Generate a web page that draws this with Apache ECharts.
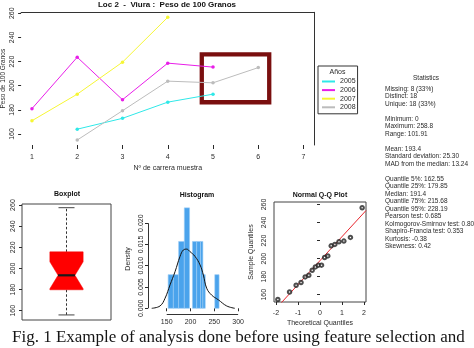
<!DOCTYPE html>
<html><head><meta charset="utf-8">
<script src="https://cdn.jsdelivr.net/npm/echarts@6/dist/echarts.min.js"></script>
<style>html,body{margin:0;padding:0;background:#fff;}#c{width:474px;height:348px;}</style>
</head><body><div id="c"></div>
<script>
// ---------- main line chart ----------
const samples = [1, 2, 3, 4, 5, 6, 7];
const years = ['2005', '2006', '2007', '2008'];
const y2005 = [null, 164, 173, 186.4, 193, null, null];
const y2006 = [181, 223.6, 188.4, 218.7, 215.4, null, null];
const y2007 = [171, 193, 219.5, 256.7, null, null, null];
const y2008 = [null, 155, 179.3, 203.8, 202.4, 215, null];
const mainYTicks = [160, 180, 200, 220, 240, 260];
const highlightX = [4.752, 6.242];
const highlightY = [186.3, 225.9];

// ---------- boxplot ----------
const boxStats = [156, 179.8, 193.5, 215.7, 257.5]; // min, q1, median, q3, max
const boxNotch = [180.8, 206.3];
const boxYTicks = [160, 180, 200, 220, 240, 260];

// ---------- histogram ----------
const histStart = [153, 164, 175, 187, 204, 213, 221, 226, 251];
const histEnd = [164, 175, 187, 198, 213, 221, 226, 231, 260];
const histDensity = [0.0079, 0.0079, 0.0157, 0.0236, 0.0157, 0.0157, 0.0157, 0.0079, 0.0079];
const densityX = [118.5, 136, 146.5, 157, 167.5, 178, 185, 192, 199, 209.4, 220, 227, 234, 244.4, 258.4, 276, 293];
const densityY = [0, 0.00055, 0.00235, 0.0055, 0.0086, 0.0122, 0.0137, 0.0139, 0.0133, 0.0122, 0.0102, 0.0078, 0.0047, 0.0031, 0.002, 0.00055, 0];
const histXTicks = [150, 200, 250, 300];
const histYTicks = [0, 0.005, 0.010, 0.015, 0.020];

// ---------- normal Q-Q ----------
const qqTheoretical = [-1.915, -1.383, -1.085, -0.862, -0.674, -0.508, -0.355, -0.210, -0.070, 0.070, 0.210, 0.355, 0.508, 0.674, 0.862, 1.085, 1.383, 1.915];
const qqSample = [154.6, 163, 170.5, 173.5, 179.7, 181.6, 187.1, 190.8, 192.7, 192.7, 201.2, 203, 214.1, 215.7, 218.6, 219.4, 223.5, 256.4];
const qqLineIntercept = 197.77;
const qqLineSlope = 26.56;
const qqXTicks = [-2, -1, 0, 1, 2];
const qqYTicks = [160, 180, 200, 220, 240, 260];

// ---------- statistics text ----------
const statsLines = [
  'Missing: 8 (33%)', 'Distinct: 18', 'Unique: 18 (33%)', '',
  'Minimum: 0', 'Maximum: 258.8', 'Range: 101.91', '',
  'Mean: 193.4', 'Standard deviation: 25.30', 'MAD from the median: 13.24', '',
  'Quantile 5%: 162.55', 'Quantile 25%: 179.85', 'Median: 191.4', 'Quantile 75%: 215.68',
  'Quantile 95%: 228.19', 'Pearson test: 0.685', 'Kolmogorov-Smirnov test: 0.806',
  'Shapiro-Francia test: 0.353', 'Kurtosis: -0.38', 'Skewness: 0.42'
];
const captionText = 'Fig. 1 Example of analysis done before using feature selection and';

const FONT = 'Liberation Sans';
const INK = '#2a2a2a';
const yearColors = ['#2fe8e8', '#e81ee8', '#f6f634', '#bcbcbc'];
const yearData = [y2005, y2006, y2007, y2008];

const mainX = [0.76, 7.24], mainY = [150.9, 260.8];
const boxY = [151.2, 261];
const histX = [110.7, 305], histY = [-0.00134, 0.0245];
const qqX = [-2.09, 2.09], qqY = [151.9, 262.7];

function tickAxis(extra) {
  return Object.assign({
    type: 'value', splitLine: { show: false },
    axisLine: { show: false }, nameMoveOverlap: false
  }, extra);
}
const tick = (vals, len) => ({ customValues: vals, length: len, lineStyle: { color: INK, width: 1 } });
const lab = (vals, extra) => Object.assign({ customValues: vals, fontSize: 7, color: INK, fontFamily: FONT }, extra);
const nameStyle = { fontSize: 7, color: INK, fontFamily: FONT };

const lineSeries = years.map((yr, k) => ({
  name: yr, type: 'line', xAxisIndex: 0, yAxisIndex: 0,
  data: samples.map((s, i) => [s, yearData[k][i]]).filter(p => p[1] !== null),
  lineStyle: { color: yearColors[k], width: 1 },
  itemStyle: { color: yearColors[k] },
  symbol: 'circle', symbolSize: 3.5, showSymbol: true,
  z: 3
}));
lineSeries[3].markArea = {
  silent: true,
  itemStyle: { color: 'rgba(0,0,0,0)', borderColor: '#7a0f0f', borderWidth: 4.3 },
  data: [[{ coord: [highlightX[0], highlightY[1]] }, { coord: [highlightX[1], highlightY[0]] }]]
};

const gridBase = { outerBoundsMode: 'none', containLabel: false };

const option = {
  animation: false,
  textStyle: { fontFamily: FONT },
  legend: {
    data: years, orient: 'vertical', left: 318, top: 66,
    padding: [12, 2, 3, 4], itemGap: 1.6, itemWidth: 13, itemHeight: 2, icon: 'rect',
    textStyle: { fontSize: 7, color: INK, lineHeight: 6, fontFamily: FONT },
    borderColor: '#333', borderWidth: 1, selectedMode: false
  },
  title: [
    { text: 'Loc 2  -  Viura :  Peso de 100 Granos', left: 167, top: 1, textAlign: 'center', padding: 0,
      textStyle: { fontSize: 8, fontWeight: 'bold', color: '#111', fontFamily: FONT } },
    { text: 'Boxplot', left: 67, top: 191, textAlign: 'center', padding: 0,
      textStyle: { fontSize: 7, fontWeight: 'bold', color: '#111', fontFamily: FONT } },
    { text: 'Histogram', left: 197, top: 192, textAlign: 'center', padding: 0,
      textStyle: { fontSize: 7, fontWeight: 'bold', color: '#111', fontFamily: FONT } },
    { text: 'Normal Q-Q Plot', left: 320, top: 192, textAlign: 'center', padding: 0,
      textStyle: { fontSize: 7, fontWeight: 'bold', color: '#111', fontFamily: FONT } },
    { text: 'Años', left: 337.5, top: 68.5, textAlign: 'center', padding: 0,
      textStyle: { fontSize: 7, fontWeight: 'normal', color: INK, fontFamily: FONT } },
    { text: 'Statistics', left: 426, top: 75, textAlign: 'center', padding: 0,
      textStyle: { fontSize: 6.5, fontWeight: 'normal', color: INK, fontFamily: FONT } }
  ],
  grid: [
    Object.assign({ left: 21.1, top: 12.3, width: 293.3, height: 132.7 }, gridBase),
    Object.assign({ left: 22, top: 204, width: 89, height: 116, show: true, borderColor: '#444', borderWidth: 1, backgroundColor: 'transparent' }, gridBase),
    Object.assign({ left: 148, top: 204, width: 92.5, height: 110 }, gridBase),
    Object.assign({ left: 274, top: 202, width: 92, height: 100, show: true, borderColor: '#444', borderWidth: 1, backgroundColor: 'transparent' }, gridBase)
  ],
  xAxis: [
    tickAxis({ gridIndex: 0, min: mainX[0], max: mainX[1], axisTick: tick(samples, 4),
      axisLabel: lab(samples, { margin: 9 }),
      name: 'Nº de carrera muestra', nameLocation: 'middle', nameGap: 20, nameTextStyle: nameStyle }),
    tickAxis({ gridIndex: 0, position: 'top', min: mainX[0], max: mainX[1],
      axisLine: { show: true, lineStyle: { color: '#333', width: 1 } }, axisTick: { show: false }, axisLabel: { show: false } }),
    tickAxis({ gridIndex: 1, min: 0, max: 1, show: false }),
    tickAxis({ gridIndex: 2, min: histX[0], max: histX[1], axisTick: tick(histXTicks, 3),
      axisLabel: lab(histXTicks, { margin: 5 }) }),
    tickAxis({ gridIndex: 3, min: qqX[0], max: qqX[1], axisTick: tick(qqXTicks, 3),
      axisLabel: lab(qqXTicks, { margin: 8 }),
      name: 'Theoretical Quantiles', nameLocation: 'middle', nameGap: 18, nameTextStyle: nameStyle })
  ],
  yAxis: [
    tickAxis({ gridIndex: 0, min: mainY[0], max: mainY[1], axisTick: tick(mainYTicks, 3),
      axisLabel: lab(mainYTicks, { rotate: 90, margin: 6 }),
      name: 'Peso de 100 Granos', nameLocation: 'middle', nameGap: 14, nameRotate: 90,
      nameTextStyle: { fontSize: 6.5, color: INK, fontFamily: FONT } }),
    tickAxis({ gridIndex: 0, position: 'right', min: mainY[0], max: mainY[1],
      axisLine: { show: true, lineStyle: { color: '#333', width: 1 } }, axisTick: { show: false }, axisLabel: { show: false } }),
    tickAxis({ gridIndex: 1, min: boxY[0], max: boxY[1], axisTick: tick(boxYTicks, 3),
      axisLabel: lab(boxYTicks, { rotate: 90, margin: 5 }) }),
    tickAxis({ gridIndex: 2, min: histY[0], max: histY[1], axisTick: tick(histYTicks, 3),
      axisLabel: lab(histYTicks, { rotate: 90, margin: 3, formatter: v => Number(v).toFixed(3) }),
      name: 'Density', nameLocation: 'middle', nameGap: 16, nameRotate: 90, nameTextStyle: nameStyle }),
    tickAxis({ gridIndex: 3, min: qqY[0], max: qqY[1], axisTick: tick(qqYTicks, 3),
      axisLabel: lab(qqYTicks, { rotate: 90, margin: 6 }),
      name: 'Sample Quantiles', nameLocation: 'middle', nameGap: 19, nameRotate: 90, nameTextStyle: nameStyle })
  ],
  series: lineSeries.concat([
    {
      type: 'custom', xAxisIndex: 2, yAxisIndex: 2, data: [[0.5, boxStats[2]]],
      encode: { x: 0, y: 1 }, silent: true,
      renderItem: function (params, api) {
        const c = (x, v) => api.coord([x, v]);
        const xc = 0.5, hw = 0.187, nw = 0.095, cw = 0.09;
        const mn = boxStats[0], q1 = boxStats[1], md = boxStats[2], q3 = boxStats[3], mx = boxStats[4];
        const pts = [c(xc - hw, q3), c(xc + hw, q3), c(xc + hw, boxNotch[1]), c(xc + nw, md), c(xc + hw, boxNotch[0]),
          c(xc + hw, q1), c(xc - hw, q1), c(xc - hw, boxNotch[0]), c(xc - nw, md), c(xc - hw, boxNotch[1])];
        const seg = (a, b, st) => ({ type: 'line', shape: { x1: a[0], y1: a[1], x2: b[0], y2: b[1] }, style: st });
        const dash = { stroke: '#333', lineWidth: 1, lineDash: [2.5, 2] };
        const solid = { stroke: '#444', lineWidth: 1 };
        return {
          type: 'group', children: [
            seg(c(xc, q3), c(xc, mx), dash),
            seg(c(xc, q1), c(xc, mn), dash),
            seg(c(xc - cw, mx), c(xc + cw, mx), solid),
            seg(c(xc - cw, mn), c(xc + cw, mn), solid),
            { type: 'polygon', shape: { points: pts }, style: { fill: '#ff0000', stroke: '#f00000', lineWidth: 0.5 } },
            seg(c(xc - nw, md), c(xc + nw, md), { stroke: '#1a1a1a', lineWidth: 2.2 })
          ]
        };
      }
    },
    {
      type: 'custom', xAxisIndex: 3, yAxisIndex: 3, silent: true,
      data: histStart.map((s, i) => [s, histEnd[i], histDensity[i]]),
      encode: { x: [0, 1], y: 2 },
      renderItem: function (params, api) {
        const p0 = api.coord([api.value(0), api.value(2)]);
        const p1 = api.coord([api.value(1), 0]);
        return { type: 'rect', shape: { x: p0[0], y: p0[1], width: p1[0] - p0[0], height: p1[1] - p0[1] },
          style: { fill: '#4aa3ec', stroke: '#9ccdf5', lineWidth: 0.6 } };
      }
    },
    {
      type: 'line', xAxisIndex: 3, yAxisIndex: 3, silent: true,
      data: densityX.map((x, i) => [x, densityY[i]]),
      smooth: 0.4, showSymbol: false, symbol: 'none',
      lineStyle: { color: '#111', width: 1 }, z: 4,
      markLine: {
        silent: true, symbol: ['none', 'none'], label: { show: false }, animation: false,
        lineStyle: { color: '#333', width: 1, type: 'solid' },
        emphasis: { disabled: true },
        data: [
          [{ coord: [histX[0], histYTicks[0]] }, { coord: [histX[0], histYTicks[histYTicks.length - 1]] }],
          [{ coord: [histXTicks[0], histY[0]] }, { coord: [histXTicks[histXTicks.length - 1], histY[0]] }]
        ]
      }
    },
    {
      type: 'line', xAxisIndex: 4, yAxisIndex: 4, silent: true, clip: true,
      data: qqX.map(x => [x, qqLineIntercept + qqLineSlope * x]),
      showSymbol: false, symbol: 'none', lineStyle: { color: '#e8262e', width: 1 }, z: 2
    },
    {
      type: 'scatter', xAxisIndex: 4, yAxisIndex: 4, silent: true,
      data: qqTheoretical.map((t, i) => [t, qqSample[i]]),
      symbol: 'emptyCircle', symbolSize: 3.5,
      itemStyle: { color: '#222', borderColor: '#222', borderWidth: 0.7 }, z: 3
    }
  ]),
  graphic: [
    { type: 'text', left: 385, top: 85, silent: true,
      style: { text: statsLines.join('\n'), font: '6.5px "Liberation Sans"', lineHeight: 7.5, fill: INK } },
    { type: 'text', left: 12, top: 329, silent: true,
      style: { text: captionText, font: '17px "Liberation Serif"', fill: '#151515' } }
  ]
};

const chart = echarts.init(document.getElementById('c'), null, { renderer: 'canvas' });
chart.setOption(option);
</script>
</body></html>
